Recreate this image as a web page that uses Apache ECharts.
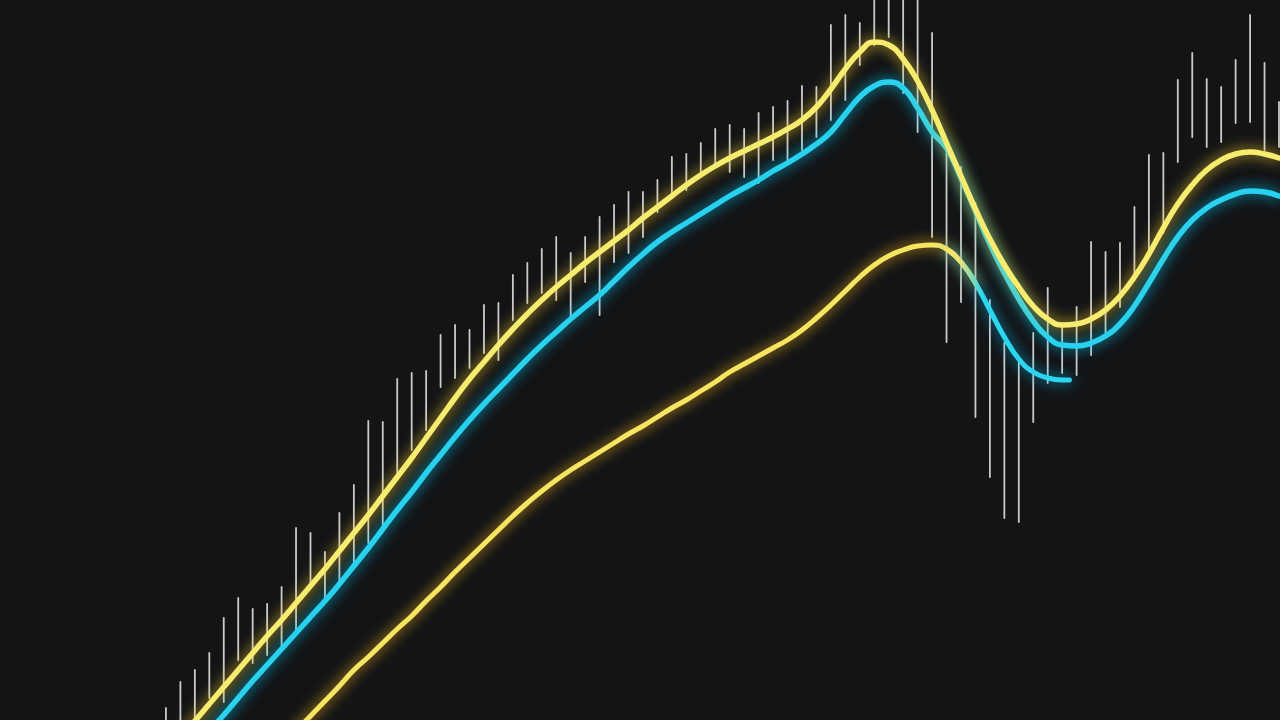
<!DOCTYPE html>
<html>
<head>
<meta charset="utf-8">
<script src="https://cdn.jsdelivr.net/npm/echarts@6/dist/echarts.min.js"></script>
<style>
html,body{margin:0;padding:0;background:#131416;}
#c{width:1280px;height:720px;}
</style>
</head>
<body>
<div id="c"></div>
<script>
// Candle wicks: high and low per bar (bar index 0..77)
const wickHigh = [12,38,50,67,102,122,111,116,133,192,187,168,207,235,299,298,341,347,349,385,
  395,390,415,417,445,457,471,483,467,483,503,515,528,528,540,563,566,577,591,595,
  591,607,613,619,634,633,695,705,697,740,740,740,740,687,580,553,517,420,377,363,
  387,432,393,413,478,468,477,513,565,567,640,667,641,633,660,705,657,618];
const wickLow = [-10,-10,-10,22,18,60,57,65,73,87,135,117,137,155,177,190,247,270,290,333,
  342,352,367,360,400,417,427,420,403,438,405,458,467,483,508,523,530,547,553,548,
  543,537,560,560,570,583,600,620,655,675,683,627,588,483,378,418,303,243,202,198,
  298,337,347,345,365,387,413,440,467,487,558,583,573,578,597,598,570,573];

// Fast yellow average (bars 0..77)
const fastYellow = [-35,-17,-1,16,33,50,67,84,100,117,134,151,169,187,205,224,243,262,282,302,
  322,341,358,375,391,406,420,433,445,457,468,479,490,502,513,524,535,545,554,562,
  569,576,583,591,600,613,631,651,668,678,675,661,639,610,577,544,511,481,455,433,
  414,401,395,396,401,410,424,443,466,492,516,535,550,560,566,568,566,562];

// Cyan average (bars 0..77)
const midCyan = [-61,-44,-28,-11,5,22,39,55,71,87,103,119,136,154,172,191,210,228,247,265,
  283,300,316,331,346,361,375,388,401,413,425,439,453,466,478,488,497,506,515,524,
  532,540,549,557,566,576,588,606,623,634,638,632,612,588,572,542,509,476,447,421,
  399,383,375,374,377,384,396,414,437,461,483,500,512,520,526,529,528,524];

// Slow average, starts at bar 9, ends at bar 62.5
const slowStart = 9;
const slowLine = [-11,4,19,34,50,63,77,91,104,119,133,148,162,176,190,204,217,229,240,250,
  259,268,277,286,294,303,312,320,329,338,348,356,364,372,380,390,402,415,429,443,
  455,464,470,474,475,471,458,437,410,383,361,348,342,340];
const slowEnd = [62.5, 340];

const wickData = wickHigh.map((h, i) => [i, wickLow[i], h]);
const yellowData = fastYellow.map((v, i) => [i, v]);
const cyanData = midCyan.map((v, i) => [i, v]);
const slowAll = slowLine.map((v, i) => [slowStart + i, v]).concat([slowEnd]);
const slowYellowPart = slowAll.filter(p => p[0] <= 56);
const slowCyanPart = slowAll.filter(p => p[0] >= 54);

const chart = echarts.init(document.getElementById('c'));
chart.setOption({
  backgroundColor: '#131416',
  animation: false,
  grid: {left: 0, right: 0, top: 0, bottom: 0},
  xAxis: {type: 'value', min: -11.48, max: 77.07, show: false},
  yAxis: {type: 'value', min: 0, max: 720, show: false},
  series: [
    {
      type: 'custom',
      data: wickData,
      clip: true,
      z: 1,
      renderItem: function (params, api) {
        const i = api.value(0);
        const lo = api.coord([i, api.value(1)]);
        const hi = api.coord([i, api.value(2)]);
        return {
          type: 'line',
          shape: {x1: lo[0], y1: lo[1], x2: hi[0], y2: hi[1]},
          style: {stroke: 'rgba(228,228,228,0.88)', lineWidth: 1.8, lineCap: 'round'}
        };
      }
    },
    {
      type: 'line', data: slowYellowPart, smooth: 0.5, symbol: 'none', z: 3,
      lineStyle: {width: 5, color: '#f7e460', cap: 'round',
        shadowBlur: 14, shadowColor: 'rgba(255,190,30,0.95)'}
    },
    {
      type: 'line', data: slowCyanPart, smooth: 0.5, symbol: 'none', z: 3,
      lineStyle: {width: 5, cap: 'round',
        color: new echarts.graphic.LinearGradient(0, 0, 1, 0, [
          {offset: 0, color: '#f7e460'},
          {offset: 0.12, color: '#f2e272'},
          {offset: 0.3, color: '#2bd6f0'},
          {offset: 1, color: '#2bd6f0'}
        ]),
        shadowBlur: 14, shadowColor: 'rgba(0,200,255,0.85)'}
    },
    {
      type: 'line', data: cyanData, smooth: 0.5, symbol: 'none', z: 4,
      lineStyle: {width: 5.5, color: '#28d2ef', cap: 'round',
        shadowBlur: 14, shadowColor: 'rgba(0,205,255,0.9)'}
    },
    {
      type: 'line', data: yellowData, smooth: 0.5, symbol: 'none', z: 5,
      lineStyle: {width: 5.5, color: '#f8ec70', cap: 'round',
        shadowBlur: 14, shadowColor: 'rgba(255,215,50,0.9)'}
    }
  ]
});
</script>
</body>
</html>
